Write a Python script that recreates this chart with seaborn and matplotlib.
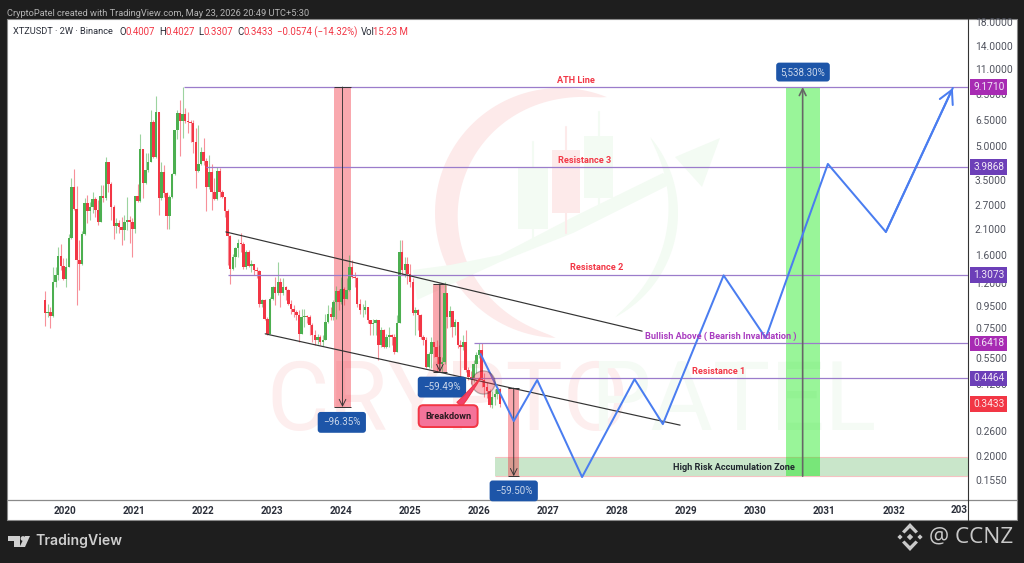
import numpy as np
import pandas as pd
import seaborn as sns
import matplotlib
matplotlib.use("Agg")
import matplotlib.pyplot as plt
from matplotlib.patches import Circle, Polygon, Rectangle
from matplotlib.ticker import FixedFormatter, FixedLocator, NullLocator

# XTZUSDT two-week candles, oldest first
first_open = 1.01
closes = [
    .88, .89, .855, 1.21, 1.30, 1.59, 1.44, 1.25, 1.42, 1.92,
    3.24, 2.60, 1.52, 1.47, 1.99, 2.74, 2.54, 2.63, 2.86, 2.56,
    2.27, 2.96, 2.89, 4.22, 3.35, 2.63, 2.17, 2.23, 2.15, 2.08,
    2.27, 2.31, 2.27, 2.11, 2.96, 2.82, 4.83, 3.39, 3.87, 4.22,
    6.40, 4.45, 7.05, 2.89, 3.80, 3.06, 2.40, 2.94, 3.71, 5.87,
    6.98, 6.47, 6.93, 6.47, 6.35, 6.29, 5.20, 3.85, 4.12, 4.66,
    4.27, 3.26, 3.80, 3.09, 2.87, 3.85, 3.09, 2.94, 2.54, 1.96,
    1.39, 1.57, 1.72, 1.81, 1.80, 1.42, 1.66, 1.44, 1.47, 1.37,
    1.36, .97, 1.005, .83, .711, 1.02, 1.155, 1.08, 1.21, 1.08,
    1.155, 1.115, .971, .92, .89, .86, .71, .845, .85, .84,
    .775, .70, .664, .687, .652, .664, .80, .875, .845, .99,
    1.10, .99, 1.13, 1.02, 1.115, 1.42, 1.28, 1.26, .97, .906,
    .906, .938, .817, .789, .795, .817, .63, .736, .619, .687,
    .70, .687, .59, .79, 1.66, 1.37, 1.47, 1.32, 1.21, .88,
    .906, .86, .687, .664, .503, .578, .652, .62, .558, .521,
    .53, 1.08, .845, .90, .762, .80, .63, .62, .65, .486,
    .453, .445, .52, .57, .60, .438, .409, .39, .338, .368,
    .381, .4007, .3433,
]
highs = [
    1.10, .97, .94, 1.42, 1.42, 1.75, 1.80, 1.55, 1.55, 1.99,
    3.58, 3.92, 3.28, 1.87, 2.05, 2.89, 2.99, 2.79, 3.09, 2.94,
    2.84, 3.31, 3.31, 4.45, 4.22, 3.43, 2.69, 2.35, 2.31, 2.39,
    2.43, 2.94, 2.41, 2.35, 2.96, 3.37, 5.61, 4.83, 4.61, 4.61,
    7.23, 6.52, 8.36, 7.10, 4.22, 4.08, 3.09, 2.99, 3.74, 5.87,
    7.23, 8.02, 9.17, 7.35, 7.10, 6.52, 6.52, 6.00, 6.18, 4.94,
    5.40, 4.37, 4.53, 4.12, 3.58, 4.01, 3.97, 3.15, 2.94, 2.60,
    1.98, 1.63, 1.75, 1.90, 2.01, 1.84, 1.69, 1.70, 1.52, 1.47,
    1.42, 1.37, 1.02, 1.02, .845, 1.04, 1.17, 1.28, 1.49, 1.26,
    1.26, 1.17, 1.13, 1.005, .955, .906, .906, .92, .92, .86,
    .86, .79, .736, .71, .70, .70, .875, .955, .94, 1.005,
    1.17, 1.13, 1.28, 1.155, 1.26, 1.60, 1.52, 1.34, 1.28, 1.02,
    .97, 1.005, .938, .817, .83, .83, .73, .762, .745, .71,
    .762, .71, .71, .86, 1.87, 1.88, 1.57, 1.57, 1.47, 1.26,
    .94, .92, .875, .70, .687, .59, .687, .65, .664, .63,
    .56, 1.21, 1.08, .95, .90, .83, .80, .664, .70, .736,
    .50, .48, .54, .59, .6418, .6418, .47, .43, .40, .39,
    .40, .41, .4027,
]
lows = [
    .77, .845, .75, .845, 1.15, 1.24, 1.37, 1.24, 1.15, 1.42,
    1.90, 2.56, .955, 1.115, 1.45, 1.97, 2.23, 2.31, 2.47, 2.39,
    2.19, 2.27, 2.79, 2.84, 3.09, 2.31, 1.90, 2.01, 2.01, 1.78,
    1.87, 2.08, 1.81, 1.57, 2.01, 2.79, 2.79, 2.89, 3.37, 3.80,
    4.22, 4.37, 4.37, 2.43, 2.84, 2.94, 2.11, 2.11, 2.89, 3.68,
    5.33, 4.48, 5.38, 6.29, 5.67, 5.20, 4.61, 3.22, 3.80, 4.08,
    4.08, 2.54, 3.20, 2.56, 2.84, 2.84, 2.94, 2.89, 2.39, 1.45,
    1.19, 1.37, 1.42, 1.57, 1.66, 1.39, 1.39, 1.42, 1.34, 1.30,
    1.26, .938, .94, .817, .70, .711, 1.005, .955, 1.06, .94,
    1.06, 1.005, .955, .875, .845, .817, .65, .711, .76, .79,
    .70, .65, .63, .635, .63, .625, .664, .79, .817, .817,
    .83, .906, .971, .955, 1.02, 1.10, 1.26, 1.155, .94, .875,
    .845, .875, .79, .70, .70, .70, .54, .62, .61, .61,
    .62, .63, .578, .59, .79, 1.30, 1.28, 1.19, 1.155, .86,
    .70, .736, .675, .63, .495, .495, .495, .558, .479, .48,
    .478, .52, .75, .76, .687, .70, .61, .438, .60, .479,
    .44, .42, .43, .47, .55, .41, .368, .365, .332, .33,
    .34, .36, .3307,
]
candle_start_year = 2019.71
candle_step_years = 14 / 365.25

# Price levels marked on the chart
level_names = ["ATH Line", "Resistance 3", "Resistance 2",
               "Bullish Above ( Bearish Invalidation )", "Resistance 1"]
level_prices = [9.1710, 3.9868, 1.3073, 0.6418, 0.4464]
level_starts = [2021.72, 2022.04, 2022.36, 2025.92, 2025.87]
level_label_years = [2027.40, 2027.52, 2027.70, 2029.50, 2029.47]
level_tag_colors = ["#a72bb3", "#6c3fb8", "#6c3fb8", "#a72bb3", "#6c3fb8"]
last_price = 0.3433

# Channel lines
upper_years, upper_prices = [2022.33, 2028.36], [2.04, 0.729]
lower_years, lower_prices = [2022.90, 2028.91], [0.709, 0.275]

# Projected path
path_years = [2026.02, 2026.50, 2026.84, 2027.49, 2028.25, 2028.66,
              2029.54, 2030.15, 2031.05, 2031.89, 2032.86]
path_prices = [0.575, 0.287, 0.439, 0.1605, 0.443, 0.278,
               1.30, 0.679, 4.13, 2.04, 9.08]

# Measured moves: year span, price span, label and its position
drop_spans = [(2023.90, 2024.14, 9.171, 0.332),
              (2025.33, 2025.53, 1.19, 0.477),
              (2026.42, 2026.58, 0.404, 0.162)]
drop_labels = ["\u221296.35%", "\u221259.49%", "\u221259.50%"]
drop_label_pos = [(2024.01, 0.283), (2025.46, 0.408), (2026.50, 0.139)]
rise_span = (2030.44, 2030.93, 0.162, 9.171)
rise_label = "5,538.30%"
rise_label_pos = (2030.69, 10.71)

# Accumulation zone
zone_start, zone_low, zone_high = 2026.23, 0.162, 0.1974
zone_label = "High Risk Accumulation Zone"

# Axes
price_ticks = [18, 14, 11, 8.5, 6.5, 5, 3.5, 2.7, 2.1, 1.6, 1.2, .95, .75,
               .55, .42, .33, .26, .2, .155]
year_ticks = list(range(2020, 2033))

PANEL_DARK = "#1e1e1e"
RED, GREEN = "#f23645", "#4caf50"
BLUE = "#1d55a8"

sns.set_theme(style="white")
plt.rcParams["font.family"] = ["Roboto", "DejaVu Sans"]

fig = plt.figure(figsize=(10.24, 5.63), dpi=100, facecolor=PANEL_DARK)

# Backdrop layer in pixel units: white panel, logo watermark and footer
deco = fig.add_axes([0, 0, 1, 1], zorder=0)
deco.set_xlim(0, 1024)
deco.set_ylim(563, 0)
deco.axis("off")
deco.add_patch(Rectangle((7, 19), 1010, 500.5, fc="white", ec="#8a8a8a", lw=0.8))

PINK_WM, GREEN_WM = "#fdeaea", "#f3fbf3"


def crescent(cx, cy, r, start_deg, end_deg, width):
    angles = np.radians(np.linspace(start_deg, end_deg, 80))
    taper = np.sin(np.linspace(0, np.pi, 80)) ** 0.7
    outer = np.c_[cx + r * np.cos(angles), cy - r * np.sin(angles)]
    rin = r - width * taper
    inner = np.c_[cx + rin * np.cos(angles), cy - rin * np.sin(angles)]
    return np.vstack([outer, inner[::-1]])


deco.add_patch(Polygon(crescent(560, 213, 125, 68, 268, 23), fc=PINK_WM, ec="none"))
deco.add_patch(Polygon(crescent(560, 213, 118, 40, -62, 10), fc=GREEN_WM, ec="none"))
deco.add_patch(Polygon([(413, 270), (450, 265), (500, 255), (573, 217), (663, 173),
                        (673, 183), (573, 233), (500, 262), (417, 300)],
                       fc=GREEN_WM, ec="none"))
deco.add_patch(Polygon([(720, 138), (675, 157), (702, 187)], fc=GREEN_WM, ec="none"))
for x0, x1, top, bot, wtop, wbot, col in [(518, 548, 167, 229, 142, 247, GREEN_WM),
                                          (552, 580, 150, 213, 127, 233, PINK_WM),
                                          (584, 613, 136, 198, 112, 217, GREEN_WM)]:
    deco.add_patch(Rectangle((x0, top), x1 - x0, bot - top, fc=col, ec="none"))
    deco.plot([(x0 + x1) / 2] * 2, [wtop, wbot], color=col, lw=1.5)
WM_FONT = ["Liberation Sans Narrow", "Roboto"]
deco.text(266, 430, "CRYPTO", color="#fdeeee", fontsize=69, family=WM_FONT, va="baseline")
deco.text(590, 430, "PATEL", color="#f5fbf5", fontsize=69, family=WM_FONT, va="baseline")

# Header and status line
deco.text(7, 13, "CryptoPatel created with TradingView.com, May 23, 2026 20:49 UTC+5:30",
          color="#b4b4b4", fontsize=6.65, va="center")
deco.text(13, 32, "XTZUSDT \u00b7 2W \u00b7 Binance", color="#2a2e39", fontsize=6.7, va="center")
for px, s, col in [(119, "O", "#2a2e39"), (125.5, "0.4007", RED), (159, "H", "#2a2e39"),
                   (165.5, "0.4027", RED), (198, "L", "#2a2e39"), (203.5, "0.3307", RED),
                   (237, "C", "#2a2e39"), (243, "0.3433", RED),
                   (277, "\u22120.0574 (\u221214.32%)", RED), (361, "Vol", "#2a2e39"),
                   (373, "15.23 M", RED)]:
    deco.text(px, 32, s, color=col, fontsize=6.9, va="center")

# Footer marks
FOOT = "#cfcfcf"
deco.add_patch(Polygon([(8, 536), (20, 536), (20, 547), (14, 547), (14, 541), (8, 541)], fc=FOOT, ec="none"))
deco.add_patch(Circle((23, 538.5), 2.4, fc=FOOT, ec="none"))
deco.add_patch(Polygon([(25, 536), (30, 536), (25, 547), (19.5, 547)], fc=FOOT, ec="none"))
deco.text(35, 541, "TradingView", color=FOOT, fontsize=10.1, weight="semibold", va="center", family="Inter")
deco.text(929, 537, "@ CCNZ", color="#c9c9c9", fontsize=16.2, va="center", family="Open Sans")
icon_x, icon_y = 910, 537
for dx, dy, s in [(0, 0, 3.2), (-10, 0, 2.6), (10, 0, 2.6)]:
    deco.add_patch(Polygon([(icon_x + dx - s, icon_y + dy), (icon_x + dx, icon_y + dy - s),
                            (icon_x + dx + s, icon_y + dy), (icon_x + dx, icon_y + dy + s)],
                           fc="#c9c9c9", ec="none"))
for sign in (-1, 1):
    deco.add_patch(Polygon([(icon_x - 8, icon_y + sign * 5.5), (icon_x, icon_y + sign * 14),
                            (icon_x + 8, icon_y + sign * 5.5), (icon_x + 5.5, icon_y + sign * 3.5),
                            (icon_x, icon_y + sign * 9), (icon_x - 5.5, icon_y + sign * 3.5)],
                           fc="#c9c9c9", ec="none"))

# Price chart on a log axis
ax = fig.add_axes([7 / 1024, (563 - 500) / 563, 961 / 1024, 481 / 563], zorder=1)
ax.patch.set_alpha(0)
ax.set_yscale("log")
ax.set_xlim(2019.16, 2033.08)
ax.set_ylim(0.1265, 18.57)

closes_arr = np.array(closes)
opens_arr = np.r_[first_open, closes_arr[:-1]]
years = candle_start_year + np.arange(len(closes)) * candle_step_years
up = closes_arr >= opens_arr
colors = np.where(up, GREEN, RED)

ax.vlines(years, lows, highs, colors=colors, lw=0.8, alpha=0.55, zorder=3)
bottoms = np.minimum(opens_arr, closes_arr)
heights = np.abs(closes_arr - opens_arr)
ax.bar(years, heights, bottom=bottoms, width=candle_step_years * 0.95, color=colors,
       linewidth=0, zorder=4)

# Levels, their captions and price tags
for name, price, start, lab_x, tag in zip(level_names, level_prices, level_starts,
                                          level_label_years, level_tag_colors):
    ax.hlines(price, start, 2033.08, color="#9b7ccb", lw=0.9, zorder=5)
    is_purple = name.startswith("Bullish")
    ax.text(lab_x, price * 1.075, name, ha="center", va="center", fontsize=6.6, weight="bold",
            color="#a93cc0" if is_purple else RED, zorder=9)
    ax.text(1.0055, price, f"{price:.4f}", transform=ax.get_yaxis_transform(), ha="left",
            va="center", fontsize=7.3, color="#f0e6f5", clip_on=False, zorder=10,
            bbox=dict(boxstyle="square,pad=0.28", fc=tag, ec="none"))
ax.text(1.0055, last_price, f"{last_price:.4f}", transform=ax.get_yaxis_transform(), ha="left",
        va="center", fontsize=7.3, color="#fbe3e6", clip_on=False, zorder=10,
        bbox=dict(boxstyle="square,pad=0.28", fc=RED, ec="none"))

# Channel
for xs, ys in [(upper_years, upper_prices), (lower_years, lower_prices)]:
    sns.lineplot(x=xs, y=ys, ax=ax, color="#333333", lw=0.85, zorder=6, legend=False,
                 estimator=None, sort=False)

# Accumulation zone, drawn under the measure bars
ax.fill_between([zone_start, 2033.08], zone_low, zone_high, color=GREEN, alpha=0.3,
                lw=0, zorder=1)
ax.hlines([zone_low, zone_high], zone_start, 2033.08, color="#f5c2c2", lw=0.8, zorder=1)
ax.text(2029.69, 0.178, zone_label, ha="center", va="center", fontsize=6.6, weight="bold",
        color="#20262e", zorder=9)

# Measured drops and the rise
for (x0, x1, top, bot), label, pos in zip(drop_spans, drop_labels, drop_label_pos):
    ax.fill_between([x0, x1], bot, top, color=RED, alpha=0.43, lw=0, zorder=2)
    mid = (x0 + x1) / 2
    ax.annotate("", xy=(mid, bot), xytext=(mid, top), zorder=6,
                arrowprops=dict(arrowstyle="->", lw=0.65, color="#333333", shrinkA=0, shrinkB=0))
    ax.hlines([top, bot], x0, x1, color="#333333", lw=0.7, zorder=6)
    ax.text(pos[0], pos[1], label, ha="center", va="center", fontsize=7.1, color="#c9d6ea", zorder=9,
            bbox=dict(boxstyle="round,pad=0.55,rounding_size=0.3", fc=BLUE, ec="none"))

x0, x1, bot, top = rise_span
ax.fill_between([x0, x1], bot, top, color="#00e600", alpha=0.4, lw=0, zorder=2)
mid = (x0 + x1) / 2
ax.annotate("", xy=(mid, top), xytext=(mid, bot), zorder=6,
            arrowprops=dict(arrowstyle="->", lw=1.2, color="#666666", shrinkA=0, shrinkB=0))
ax.text(rise_label_pos[0], rise_label_pos[1], rise_label, ha="center", va="center", fontsize=7.1,
        color="#c9d6ea", zorder=9,
        bbox=dict(boxstyle="round,pad=0.45,rounding_size=0.3", fc=BLUE, ec="none"))

# Projected path with an open arrow at its end
sns.lineplot(x=path_years, y=path_prices, ax=ax, color="#4a7df0", lw=1.45, zorder=7, legend=False,
             estimator=None, sort=False)
ax.annotate("", xy=(path_years[-1], path_prices[-1]), xytext=(path_years[-2], path_prices[-2]), zorder=7,
            arrowprops=dict(arrowstyle="->,head_length=0.6,head_width=0.32", lw=1.45, color="#4a7df0",
                            shrinkA=0, shrinkB=0, mutation_scale=16))

# Breakdown marker and callout
ax.scatter([2026.05], [0.429], s=280, color=RED, alpha=0.35, edgecolor="#333333", linewidth=0.9, zorder=8)
ax.annotate("Breakdown", xy=(2026.03, 0.455), xytext=(2025.55, 0.302), ha="center", va="center",
            fontsize=6.6, weight="bold", color="#2a1a20", zorder=9,
            bbox=dict(boxstyle="round,pad=0.7,rounding_size=0.5", fc="#f4739a", ec=RED, lw=1.4),
            arrowprops=dict(arrowstyle="wedge,tail_width=0.7,shrink_factor=0.5", fc="#f0406a",
                            ec=RED, lw=0.8, shrinkA=0, shrinkB=0,
                            connectionstyle="arc3,rad=0.05"))

# Scales
ax.yaxis.tick_right()
ax.yaxis.set_major_locator(FixedLocator(price_ticks))
ax.yaxis.set_major_formatter(FixedFormatter([f"{p:.4f}" for p in price_ticks]))
ax.yaxis.set_minor_locator(NullLocator())
ax.tick_params(axis="y", length=0, pad=5, labelsize=7.4, labelcolor="#50535e")
ax.set_xticks(year_ticks)
ax.set_xticklabels([str(y) for y in year_ticks])
ax.tick_params(axis="x", length=0, pad=4.5, labelsize=7.1, labelcolor="#2a2e39")
for label in ax.get_xticklabels():
    label.set_fontweight("bold")
deco.text(968, 510, "203", ha="right", va="center", fontsize=7.1, weight="bold", color="#2a2e39")
ax.grid(False)
sns.despine(ax=ax, left=True, top=True, right=True, bottom=True)
deco.plot([7, 1017], [500, 500], color="#8a8a8a", lw=0.9)
deco.plot([968, 968], [19, 519.5], color="#333333", lw=0.8)

fig.savefig("out.png", dpi=100, facecolor=fig.get_facecolor())
